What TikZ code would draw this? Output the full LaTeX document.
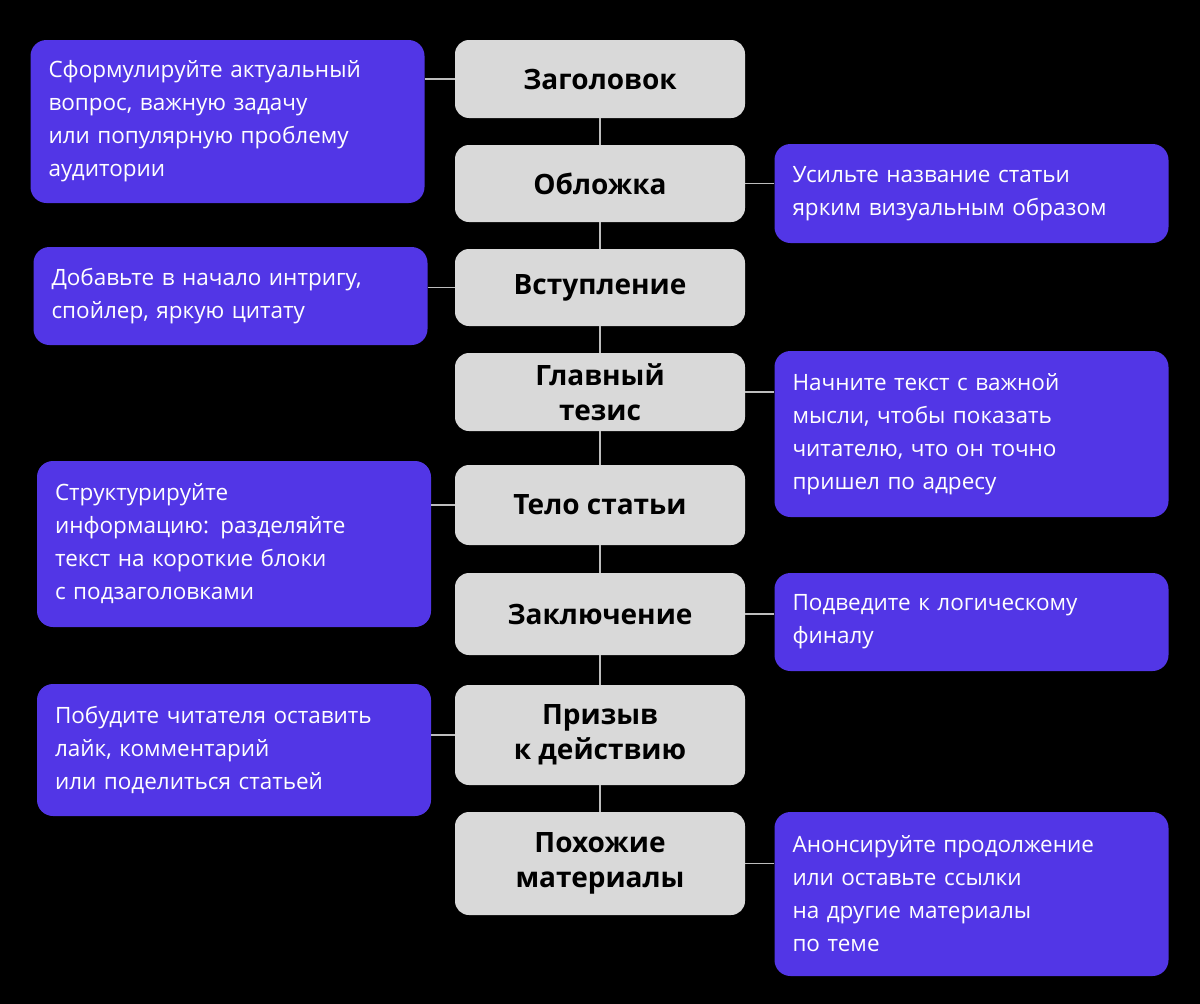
\documentclass[tikz,border=0pt]{standalone}
\usepackage{fontspec}
\setmainfont{Open Sans}
\definecolor{pur}{HTML}{5236E6}
\definecolor{gr}{HTML}{D9D9D9}
\definecolor{ln}{HTML}{BDBDBD}
\begin{document}
\begin{tikzpicture}[x=1pt,y=-1pt,
 gbox/.style={fill=gr,rounded corners=14pt,minimum width=290pt,align=center,
   font=\fontsize{28}{35}\selectfont\bfseries,text=black},
 pbox/.style={fill=pur,rounded corners=16pt,minimum width=394pt,text width=358pt,align=left,
   font=\fontsize{22.5}{33}\selectfont,text=white},
 conn/.style={draw=ln,line width=1.5pt}]
\fill[black] (0,0) rectangle (1200,1004);
\useasboundingbox (0,0) rectangle (1200,1004);
\node[gbox,minimum height=78pt] (g1) at (600,79) {Заголовок};
\node[gbox,minimum height=77pt] (g2) at (600,183.5) {Обложка};
\node[gbox,minimum height=77pt] (g3) at (600,287.5) {Вступление};
\node[gbox,minimum height=78pt] (g4) at (600,392) {Главный\\тезис};
\node[gbox,minimum height=80pt] (g5) at (600,505) {Тело статьи};
\node[gbox,minimum height=82pt] (g6) at (600,614) {Заключение};
\node[gbox,minimum height=100pt] (g7) at (600,735) {Призыв\\к действию};
\node[gbox,minimum height=103pt] (g8) at (600,863.5) {Похожие\\материалы};
\node[pbox,minimum height=163pt] (p1) at (227.5,121.5) {Сформулируйте актуальный\\вопрос, важную задачу\\или популярную проблему\\аудитории};
\node[pbox,minimum height=99pt] (p2) at (971.5,193.5) {Усильте название статьи\\ярким визуальным образом};
\node[pbox,minimum height=98pt] (p3) at (230.5,296) {Добавьте в начало интригу,\\спойлер, яркую цитату};
\node[pbox,minimum height=166pt] (p4) at (971.5,434) {Начните текст с важной\\мысли, чтобы показать\\читателю, что он точно\\пришел по адресу};
\node[pbox,minimum height=166pt] (p5) at (234,544) {Структурируйте\\информацию: разделяйте\\текст на короткие блоки\\с подзаголовками};
\node[pbox,minimum height=98pt] (p6) at (971.5,622) {Подведите к логическому\\финалу};
\node[pbox,minimum height=132pt] (p7) at (234,750) {Побудите читателя оставить\\лайк, комментарий\\или поделиться статьей};
\node[pbox,minimum height=164pt] (p8) at (971.5,894) {Анонсируйте продолжение\\или оставьте ссылки\\на другие материалы\\по теме};
\foreach \a/\b in {g1/g2,g2/g3,g3/g4,g4/g5,g5/g6,g6/g7,g7/g8}
  \draw[conn] (\a.south) -- (\b.north);
\draw[conn] (p1.east|-g1) -- (g1.west);
\draw[conn] (p2.west|-g2) -- (g2.east);
\draw[conn] (p3.east|-g3) -- (g3.west);
\draw[conn] (p4.west|-g4) -- (g4.east);
\draw[conn] (p5.east|-g5) -- (g5.west);
\draw[conn] (p6.west|-g6) -- (g6.east);
\draw[conn] (p7.east|-g7) -- (g7.west);
\draw[conn] (p8.west|-g8) -- (g8.east);
\end{tikzpicture}
\end{document}
